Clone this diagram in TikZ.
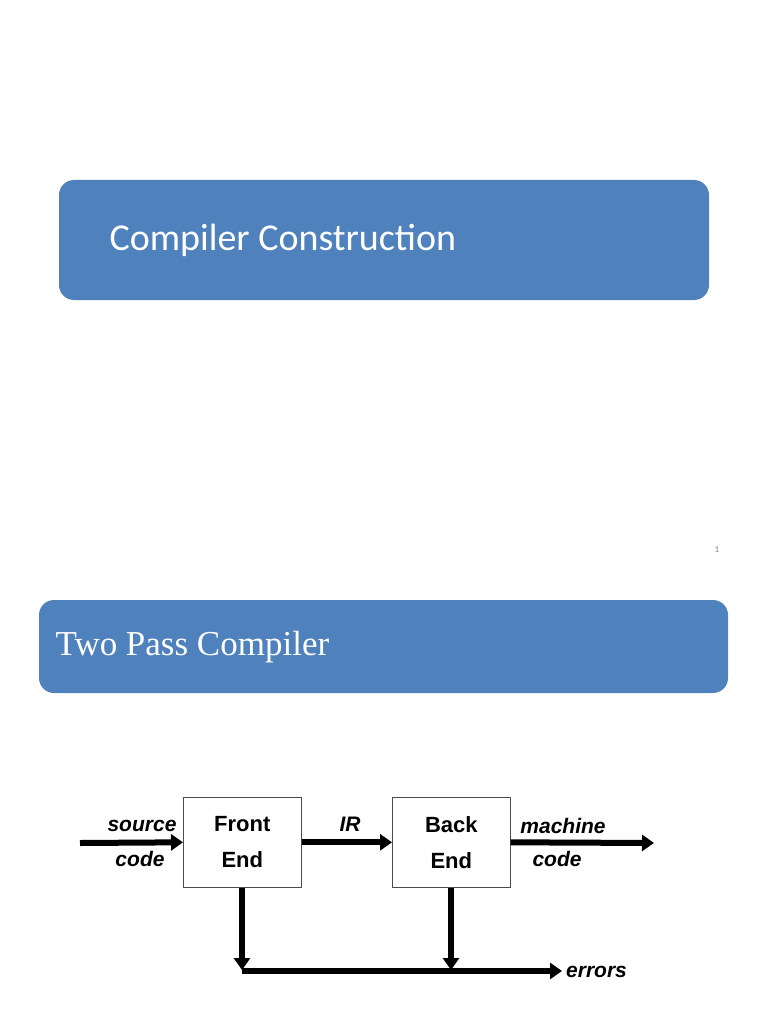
\documentclass[tikz,border=0pt]{standalone}
\usepackage{fontspec}
\setmainfont{Liberation Serif}
\newfontfamily\carl{Carlito}
\newfontfamily\lsans{Liberation Sans}
\usetikzlibrary{arrows.meta}
\definecolor{hdr}{HTML}{4F81BD}
\begin{document}
\begin{tikzpicture}[x=1pt,y=-1pt,
  hbox/.style={fill=hdr,rounded corners=15pt},
  blk/.style={draw=black!70,line width=0.6pt,minimum width=118pt,minimum height=90pt,anchor=north west,align=center,font=\lsans\bfseries\fontsize{22}{36}\selectfont},
  fat/.style={line width=6pt,-{Triangle[length=12pt,width=16pt]}},
  lab/.style={font=\lsans\bfseries\itshape\fontsize{21}{24}\selectfont,inner sep=0pt}]
\useasboundingbox (0,0) rectangle (768,1024);
\fill[white] (0,0) rectangle (768,1024);
\path[hbox] (59,180) rectangle (709,300);
\node[anchor=west,text=white,font=\carl\fontsize{38}{44}\selectfont] (t1) at (106,240) {Compiler Construction};
\node[text=black!50,font=\carl\fontsize{9}{10}\selectfont] (pn) at (717,550) {1};
\path[hbox] (39,600) rectangle (728,693);
\node[anchor=west,text=white,font=\fontsize{35}{40}\selectfont] (t2) at (52,647) {Two Pass Compiler};
\node[blk] (fe) at (183,797) {Front\\End};
\node[blk] (be) at (392,797) {Back\\End};
\coordinate (s) at (80,843);
\coordinate (m) at (654,843);
\coordinate (fd) at (242,970);
\coordinate (bd) at (451,970);
\coordinate (er) at (562,971);
\draw[fat] (s) -- (fe.west);
\draw[fat] (fe.east) -- (be.west);
\draw[fat] (be.east) -- (m);
\draw[fat] (fe.south -| fd) -- (fd);
\draw[fat] (be.south -| bd) -- (bd);
\draw[line width=6pt,-{Triangle[length=12pt,width=16pt]}] (242,971) -- (er);
\node[lab] (l1) at (142,826) {source};
\node[lab] (l2) at (140,859) {code};
\node[lab] (l3) at (350,824) {IR};
\node[lab] (l4) at (563,826) {machine};
\node[lab] (l5) at (557,859) {code};
\node[lab,anchor=west] (l6) at (566,972) {errors};
\end{tikzpicture}
\end{document}
